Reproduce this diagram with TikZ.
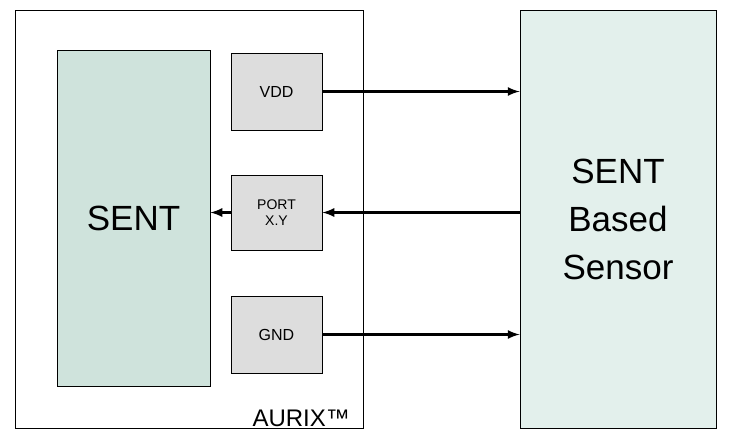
\documentclass[tikz,border=0pt]{standalone}
\usepackage{fontspec}
\setmainfont{Liberation Sans}
\usetikzlibrary{positioning}
\definecolor{sentgreen}{RGB}{207,227,220}
\definecolor{sensorgreen}{RGB}{227,240,236}
\definecolor{pingray}{RGB}{221,221,221}

\begin{document}
\begin{tikzpicture}[x=1pt,y=-1pt,
  box/.style={draw,line width=0.9pt,inner sep=0pt},
  pin/.style={box,fill=pingray,minimum width=91pt,minimum height=77pt,align=center},
  sig/.style={line width=3pt,-latex}]
			\useasboundingbox (0,0) rectangle (747,440);
			\node[box,minimum width=348pt,minimum height=418pt] (aurix) at (189,219) {};
			\node[anchor=south east,font=\fontsize{24}{26}\selectfont] (aurixlbl) at ([xshift=-10pt,yshift=-2pt]aurix.south east) {AURIX™};
			\node[box,fill=sentgreen,minimum width=153pt,minimum height=336pt,font=\fontsize{35}{38}\selectfont] (sent) at (133.5,218) {SENT};
			\node[pin,font=\fontsize{16}{18}\selectfont] (vdd) at (276.5,91.5) {VDD};
			\node[pin,minimum height=75pt,font=\fontsize{14}{16}\selectfont] (port) at (276.5,212.5) {PORT\\X.Y};
			\node[pin,font=\fontsize{16}{18}\selectfont] (gnd) at (276.5,334.5) {GND};
			\node[box,fill=sensorgreen,minimum width=196pt,minimum height=418pt,align=center,font=\fontsize{35}{48}\selectfont] (sensor) at (618,219) {SENT\\Based\\Sensor};
			\draw[sig] (vdd.east) -- (vdd.east -| sensor.west);
			\draw[sig] (sensor.west |- port.east) -- (port.east);
			\draw[sig] (port.west) -- (port.west -| sent.east);
			\draw[sig] (gnd.east) -- (gnd.east -| sensor.west);
		\end{tikzpicture}
\end{document}
